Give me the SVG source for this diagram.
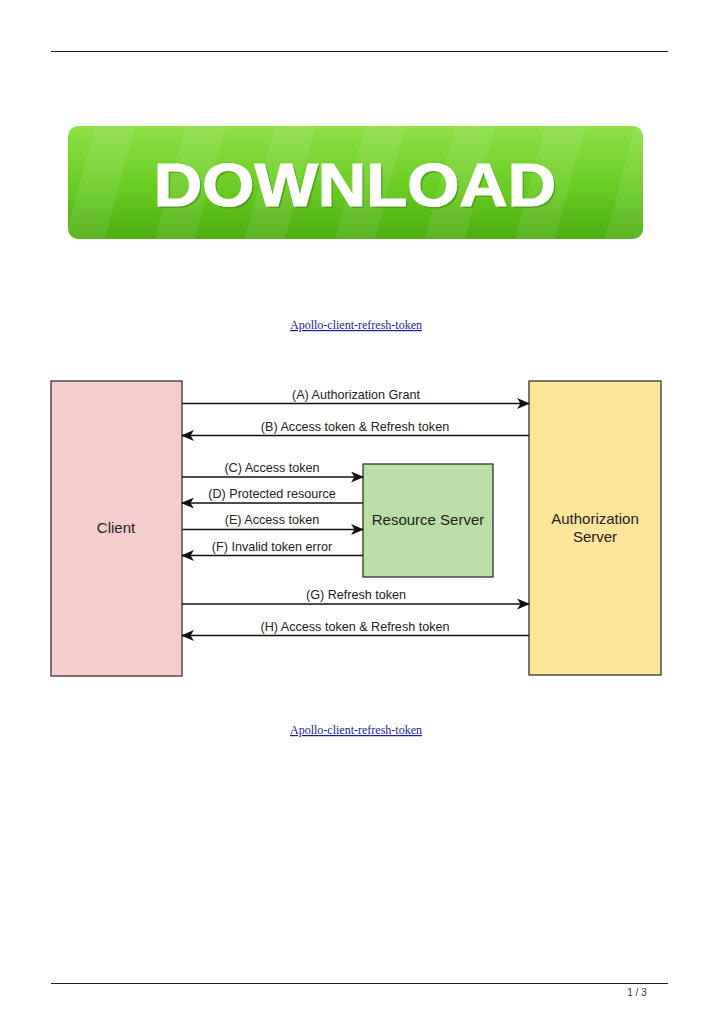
<svg xmlns="http://www.w3.org/2000/svg" width="720" height="1018" viewBox="0 0 720 1018">
<style>
.lbl{font-family:"Liberation Sans",Arial,sans-serif;font-size:12.6px;fill:#222;text-anchor:middle}
.node{stroke:#333;stroke-width:1.3}
.nt{font-family:"Liberation Sans",Arial,sans-serif;font-size:15px;fill:#222;text-anchor:middle}
.link{font-family:"Liberation Serif","Times New Roman",serif;font-size:12px;fill:#1a1aa6;text-anchor:middle;text-decoration:underline}
.conn{stroke:#111;stroke-width:1.3;fill:none}
.dl{font-family:"Liberation Sans",Arial,sans-serif;font-weight:bold;font-size:61px;text-anchor:middle}
</style>
<defs>
<marker id="ah" viewBox="0 0 13 11" refX="12" refY="5.5" markerWidth="13" markerHeight="11" markerUnits="userSpaceOnUse" orient="auto">
<path d="M0,0 L13,5.5 L0,11 L3.5,5.5 Z" fill="#111"/>
</marker>
<linearGradient id="g" x1="0" y1="0" x2="0" y2="1">
<stop offset="0" stop-color="#8fe048"/>
<stop offset="0.5" stop-color="#6cce24"/>
<stop offset="1" stop-color="#4fae12"/>
</linearGradient>
<clipPath id="bc"><rect x="68" y="126" width="575" height="113" rx="10"/></clipPath>
</defs>
<rect width="720" height="1018" fill="#fff"/>
<line x1="51" y1="51.5" x2="668" y2="51.5" stroke="#222" stroke-width="1"/>
<g id="download">
<rect x="68" y="126" width="575" height="113" rx="10" fill="url(#g)"/>
<g clip-path="url(#bc)" fill="#fff" opacity="0.08">
<polygon points="95,126 135,126 105,239 65,239"/>
<polygon points="185,126 225,126 195,239 155,239"/>
<polygon points="275,126 315,126 285,239 245,239"/>
<polygon points="365,126 405,126 375,239 335,239"/>
<polygon points="455,126 495,126 465,239 425,239"/>
<polygon points="545,126 585,126 555,239 515,239"/>
<polygon points="635,126 675,126 645,239 605,239"/>
</g>
<text class="dl" transform="translate(357,208) scale(1.1,1)" fill="#3f8a10" opacity="0.6">DOWNLOAD</text>
<text class="dl" transform="translate(355,206) scale(1.1,1)" fill="#fff" stroke="#fff" stroke-width="1.2">DOWNLOAD</text>
</g>
<text class="link" x="356" y="329">Apollo-client-refresh-token</text>
<g id="client"><rect class="node" x="51" y="381" width="131" height="295" fill="#f6cdcc"/><text class="nt" x="116" y="533">Client</text></g>
<g id="resource"><rect class="node" x="363" y="464" width="130" height="113" fill="#b9dfa5"/><text class="nt" x="428" y="525">Resource Server</text></g>
<g id="auth"><rect class="node" x="529" y="381" width="132" height="294" fill="#fee59a"/><text class="nt" x="595" y="524">Authorization</text><text class="nt" x="595" y="542">Server</text></g>
<g id="connectors">
<line class="conn" x1="182" y1="403.5" x2="529" y2="403.5" marker-end="url(#ah)"/>
<line class="conn" x1="529" y1="435.5" x2="182" y2="435.5" marker-end="url(#ah)"/>
<line class="conn" x1="182" y1="477" x2="363" y2="477" marker-end="url(#ah)"/>
<line class="conn" x1="363" y1="503" x2="182" y2="503" marker-end="url(#ah)"/>
<line class="conn" x1="182" y1="529.5" x2="363" y2="529.5" marker-end="url(#ah)"/>
<line class="conn" x1="363" y1="555.5" x2="182" y2="555.5" marker-end="url(#ah)"/>
<line class="conn" x1="182" y1="604" x2="529" y2="604" marker-end="url(#ah)"/>
<line class="conn" x1="529" y1="635.5" x2="182" y2="635.5" marker-end="url(#ah)"/>
<text class="lbl" x="356" y="399">(A) Authorization Grant</text>
<text class="lbl" x="355" y="431">(B) Access token &amp; Refresh token</text>
<text class="lbl" x="272" y="472">(C) Access token</text>
<text class="lbl" x="272" y="498">(D) Protected resource</text>
<text class="lbl" x="272" y="524">(E) Access token</text>
<text class="lbl" x="272" y="551">(F) Invalid token error</text>
<text class="lbl" x="356" y="599">(G) Refresh token</text>
<text class="lbl" x="355" y="631">(H) Access token &amp; Refresh token</text>
</g>
<text class="link" x="356" y="734">Apollo-client-refresh-token</text>
<line x1="51" y1="983.5" x2="668" y2="983.5" stroke="#222" stroke-width="1"/>
<text x="637" y="996" font-family="Liberation Sans,Arial,sans-serif" font-size="10" fill="#333" text-anchor="middle">1 / 3</text>
</svg>
